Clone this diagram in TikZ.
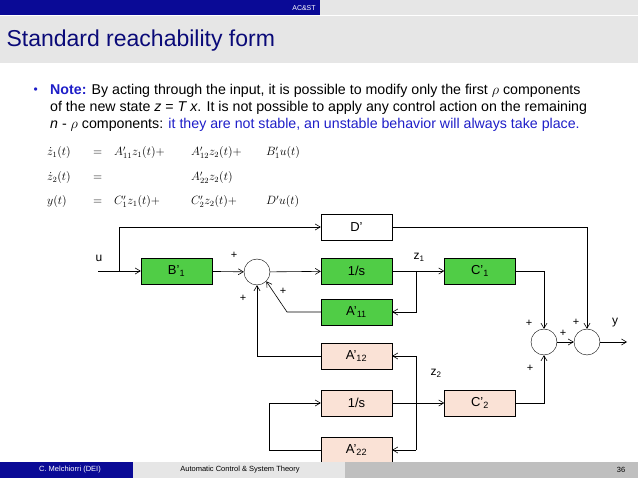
\documentclass[tikz,border=0pt]{standalone}
\usepackage{fontspec}
\setmainfont{Liberation Sans}
\usetikzlibrary{arrows.meta}
\definecolor{bluebar}{RGB}{10,10,150}
\definecolor{titleblue}{RGB}{10,10,120}
\definecolor{notecol}{RGB}{30,30,200}
\definecolor{grn}{RGB}{80,205,70}
\definecolor{pnk}{RGB}{250,226,214}
\definecolor{band}{RGB}{230,230,230}
\begin{document}
\begin{tikzpicture}[x=1pt,y=-1pt,
  blk/.style={draw,minimum width=71pt,minimum height=26pt,inner sep=0pt,font=\fontsize{13}{13}\selectfont},
  gb/.style={blk,fill=grn},
  pb/.style={blk,fill=pnk},
  sumc/.style={draw,fill=white,circle,minimum size=26pt,inner sep=0pt},
  lab/.style={font=\fontsize{12}{12}\selectfont},
  pl/.style={font=\fontsize{11}{11}\selectfont,inner sep=0pt},
  arr/.style={-{Straight Barb[length=5pt,width=6pt]},line width=0.6pt},
  ln/.style={line width=0.6pt}]
\useasboundingbox (0,0) rectangle (638,478);
% header
\fill[bluebar] (0,0) rectangle (320,15);
\fill[band] (320,0) rectangle (638,15);
\node[font=\fontsize{7}{7}\selectfont,text=white] at (304,8) {AC\&ST};
\fill[band] (0,16) rectangle (638,63);
\node[anchor=west,text=titleblue,font=\fontsize{23}{23}\selectfont] at (3,41) {Standard reachability form};
% bullet
\node[anchor=west,text=notecol,font=\fontsize{12}{12}\selectfont] at (30,91) {•};
\begin{scope}[font=\fontsize{14.2}{14.2}\selectfont]
\node[anchor=west,inner sep=0pt] at (50,91) {\textcolor{notecol}{\textbf{Note:}} By acting through the input, it is possible to modify only the first $\rho$ components};
\node[anchor=west,inner sep=0pt] at (50,108) {of the new state \textit{z} = \textit{T x}. It is not possible to apply any control action on the remaining};
\node[anchor=west,inner sep=0pt] at (50,125) {\textit{n} - $\rho$ components: \textcolor{notecol}{it they are not stable, an unstable behavior will always take place.}};
\end{scope}
% equations
\begin{scope}[every node/.style={anchor=west,inner sep=0pt,font=\fontsize{12}{12}\selectfont}]
\node at (47,153) {$\dot z_1(t)$}; \node at (93,153) {$=$};
\node at (114,153) {$A'_{11}z_1(t)+$}; \node at (191,153) {$A'_{12}z_2(t)+$}; \node at (266,153) {$B'_1u(t)$};
\node at (47,178) {$\dot z_2(t)$}; \node at (93,178) {$=$};
\node at (191,178) {$A'_{22}z_2(t)$};
\node at (47,202) {$y(t)$}; \node at (93,202) {$=$};
\node at (114,202) {$C'_1z_1(t)+$}; \node at (191,202) {$C'_2z_2(t)+$}; \node at (266,202) {$D'u(t)$};
\end{scope}
% diagram
\node[blk] (D) at (356.5,227) {D’};
\node[gb] (B) at (176.5,271) {B’\textsubscript{1}};
\node[sumc] (s1) at (257,272) {};
\node[gb] (I1) at (356.5,271) {1/s};
\node[gb] (C1) at (480,271) {C’\textsubscript{1}};
\node[gb] (A11) at (356.5,312) {A’\textsubscript{11}};
\node[pb] (A12) at (356.5,356) {A’\textsubscript{12}};
\node[pb] (I2) at (356.5,403) {1/s};
\node[pb] (C2) at (480,403) {C’\textsubscript{2}};
\node[pb] (A22) at (356.5,450) {A’\textsubscript{22}};
\node[sumc] (s2) at (544,342) {};
\node[sumc] (s3) at (587,342) {};
\coordinate (u0) at (98,271);
\coordinate (ub) at (119,271);
\coordinate (z1b) at (416,271);
\coordinate (z2b) at (416,403);
\coordinate (yout) at (627,342);
\node[lab] at (99,258) {u};
\node[lab] at (419,257) {z\textsubscript{1}};
\node[lab] at (436,373) {z\textsubscript{2}};
\node[lab] at (615,323) {y};
\draw[arr] (u0) -- (B);
\draw[arr] (ub) |- (D);
\draw[arr] (B) -- (s1);
\draw[arr] (s1) -- (I1);
\draw[arr] (I1) -- (C1);
\draw[arr] (z1b) |- (A11);
\draw[arr] (A11.west) -- (287,312) -- (s1.-45);
\draw[arr] (A12.west) -| (s1.south);
\draw[arr] (I2) -- (C2);
\draw[arr] (z2b |- A12.east) -- (A12.east);
\draw[ln] (z2b |- A12.east) -- (z2b |- A22.east);
\draw[arr] (z2b |- A22.east) -- (A22.east);
\draw[arr] (A22.west) -- (269,450) |- (I2.west);
\draw[arr] (C1.east) -| (s2.north);
\draw[arr] (C2.east) -| (s2.south);
\draw[arr] (D.east) -| (s3.north);
\draw[arr] (s2) -- (s3);
\draw[arr] (s3) -- (yout);
\node[pl] at (234,255) {+};
\node[pl] at (243,298) {+};
\node[pl] at (283,291) {+};
\node[pl] at (529,323) {+};
\node[pl] at (530,368) {+};
\node[pl] at (563,333) {+};
\node[pl] at (576,322) {+};
% footer
\fill[bluebar] (0,462) rectangle (133,478);
\fill[band] (133,462) rectangle (345,478);
\fill[black!25] (345,462) rectangle (638,478);
\node[text=white,font=\fontsize{7.5}{7.5}\selectfont] at (70,470) {C. Melchiorri (DEI)};
\node[font=\fontsize{7.5}{7.5}\selectfont] at (240,470) {Automatic Control \& System Theory};
\node[font=\fontsize{7.5}{7.5}\selectfont] at (621,470) {36};
\end{tikzpicture}
\end{document}
